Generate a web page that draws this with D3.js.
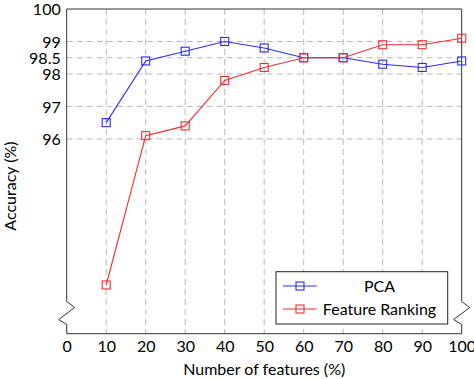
<!DOCTYPE html>
<html><head><meta charset="utf-8">
<script src="https://cdn.jsdelivr.net/npm/d3@7"></script>
<style>
html,body{margin:0;padding:0;background:#fff;}
svg{display:block;}
text{font-family:Lato,"Noto Sans",sans-serif;fill:#000;}
</style></head>
<body>
<svg id="chart" width="474" height="379"></svg>
<script>
const features = [10,20,30,40,50,60,70,80,90,100];
const pca = [96.5,98.4,98.7,99.0,98.8,98.5,98.5,98.3,98.2,98.4];
const featureRanking = [91.5,96.1,96.4,97.8,98.2,98.5,98.5,98.9,98.9,99.1];
const xTicks = [0,10,20,30,40,50,60,70,80,90,100];
const yTicks = [96,97,98,98.5,99,100];
const yGrid = [96,97,98,98.5,99];
const seriesNames = ["PCA","Feature Ranking"];
const colors = ["#2a2aff","#f03030"];

const svg = d3.select("#chart");
const L=66.7, R=461.7, T=9, B=333.7;
const FS = "16px";
const x = d3.scaleLinear().domain([0,100]).range([L,R]);
const y = d3.scaleLinear().domain([90,100]).range([B,T]);

// grid
const g = svg.append("g");
g.selectAll("line.vg").data(xTicks.filter(d=>d>0&&d<100)).join("line")
  .attr("x1",d=>x(d)).attr("x2",d=>x(d)).attr("y1",T).attr("y2",B)
  .attr("stroke","#b8b8b8").attr("stroke-width",1).attr("stroke-dasharray","6,4");
g.selectAll("line.hg").data(yGrid).join("line")
  .attr("x1",L).attr("x2",R).attr("y1",d=>y(d)).attr("y2",d=>y(d))
  .attr("stroke","#b8b8b8").attr("stroke-width",1).attr("stroke-dasharray","6,4");

// frame with axis breaks
const bTop = 301.5;
function sidePath(xx){
  return `M${xx},${T} L${xx},${bTop} L${xx+8},${bTop+6} L${xx-8},${bTop+18} L${xx},${bTop+23} L${xx},${B}`;
}
svg.append("path").attr("d",sidePath(L)).attr("fill","none").attr("stroke","#333").attr("stroke-width",1);
svg.append("path").attr("d",sidePath(R)).attr("fill","none").attr("stroke","#333").attr("stroke-width",1);
svg.append("line").attr("x1",L).attr("x2",R).attr("y1",T).attr("y2",T).attr("stroke","#333");
svg.append("line").attr("x1",L).attr("x2",R).attr("y1",B).attr("y2",B).attr("stroke","#333");

// axes (labels only)
const xa = svg.append("g").attr("transform",`translate(0,${B})`)
  .call(d3.axisBottom(x).tickValues(xTicks).tickSize(0).tickPadding(0).tickFormat(d3.format("d")));
xa.select(".domain").remove();
xa.selectAll("text").attr("y",18.3).attr("dy",0).style("font-size",FS).style("font-family","Lato").attr("fill","#000");

const ya = svg.append("g").attr("transform",`translate(${L},0)`)
  .call(d3.axisLeft(y).tickValues(yTicks).tickSize(0).tickPadding(6).tickFormat(d=>String(d)));
ya.select(".domain").remove();
ya.selectAll("text").attr("dy","0.36em").style("font-size",FS).style("font-family","Lato").attr("fill","#000");

// axis titles
svg.append("text").attr("x",(L+R)/2).attr("y",375).attr("text-anchor","middle")
  .style("font-size",FS).text("Number of features (%)");
svg.append("text").attr("transform",`translate(16,186) rotate(-90)`).attr("text-anchor","middle")
  .style("font-size",FS).text("Accuracy (%)");

// series
const allSeries = [pca, featureRanking];
const line = d3.line().x((d,i)=>x(features[i])).y(d=>y(d));
const ms = 8;
allSeries.forEach((s,k)=>{
  const sg = svg.append("g");
  sg.append("path").attr("d",line(s)).attr("fill","none").attr("stroke",colors[k]).attr("stroke-width",1.1);
  sg.selectAll("rect").data(s).join("rect")
    .attr("x",(d,i)=>x(features[i])-ms/2).attr("y",d=>y(d)-ms/2)
    .attr("width",ms).attr("height",ms).attr("fill","none").attr("stroke",colors[k]).attr("stroke-width",1.1);
});

// legend
const lg = svg.append("g");
lg.append("rect").attr("x",276).attr("y",271.7).attr("width",171.7).attr("height",52.3)
  .attr("fill","#fff").attr("stroke","#222").attr("stroke-width",1);
const rowsY = [286, 309];
seriesNames.forEach((n,k)=>{
  lg.append("line").attr("x1",283).attr("x2",316.7).attr("y1",rowsY[k]).attr("y2",rowsY[k])
    .attr("stroke",colors[k]).attr("stroke-width",1.1);
  lg.append("rect").attr("x",300-ms/2).attr("y",rowsY[k]-ms/2).attr("width",ms).attr("height",ms)
    .attr("fill","none").attr("stroke",colors[k]).attr("stroke-width",1.1);
  lg.append("text").attr("x",379.5).attr("y",rowsY[k]).attr("dy","0.36em").attr("text-anchor","middle")
    .style("font-size",FS).text(n);
});
</script>
</body></html>
